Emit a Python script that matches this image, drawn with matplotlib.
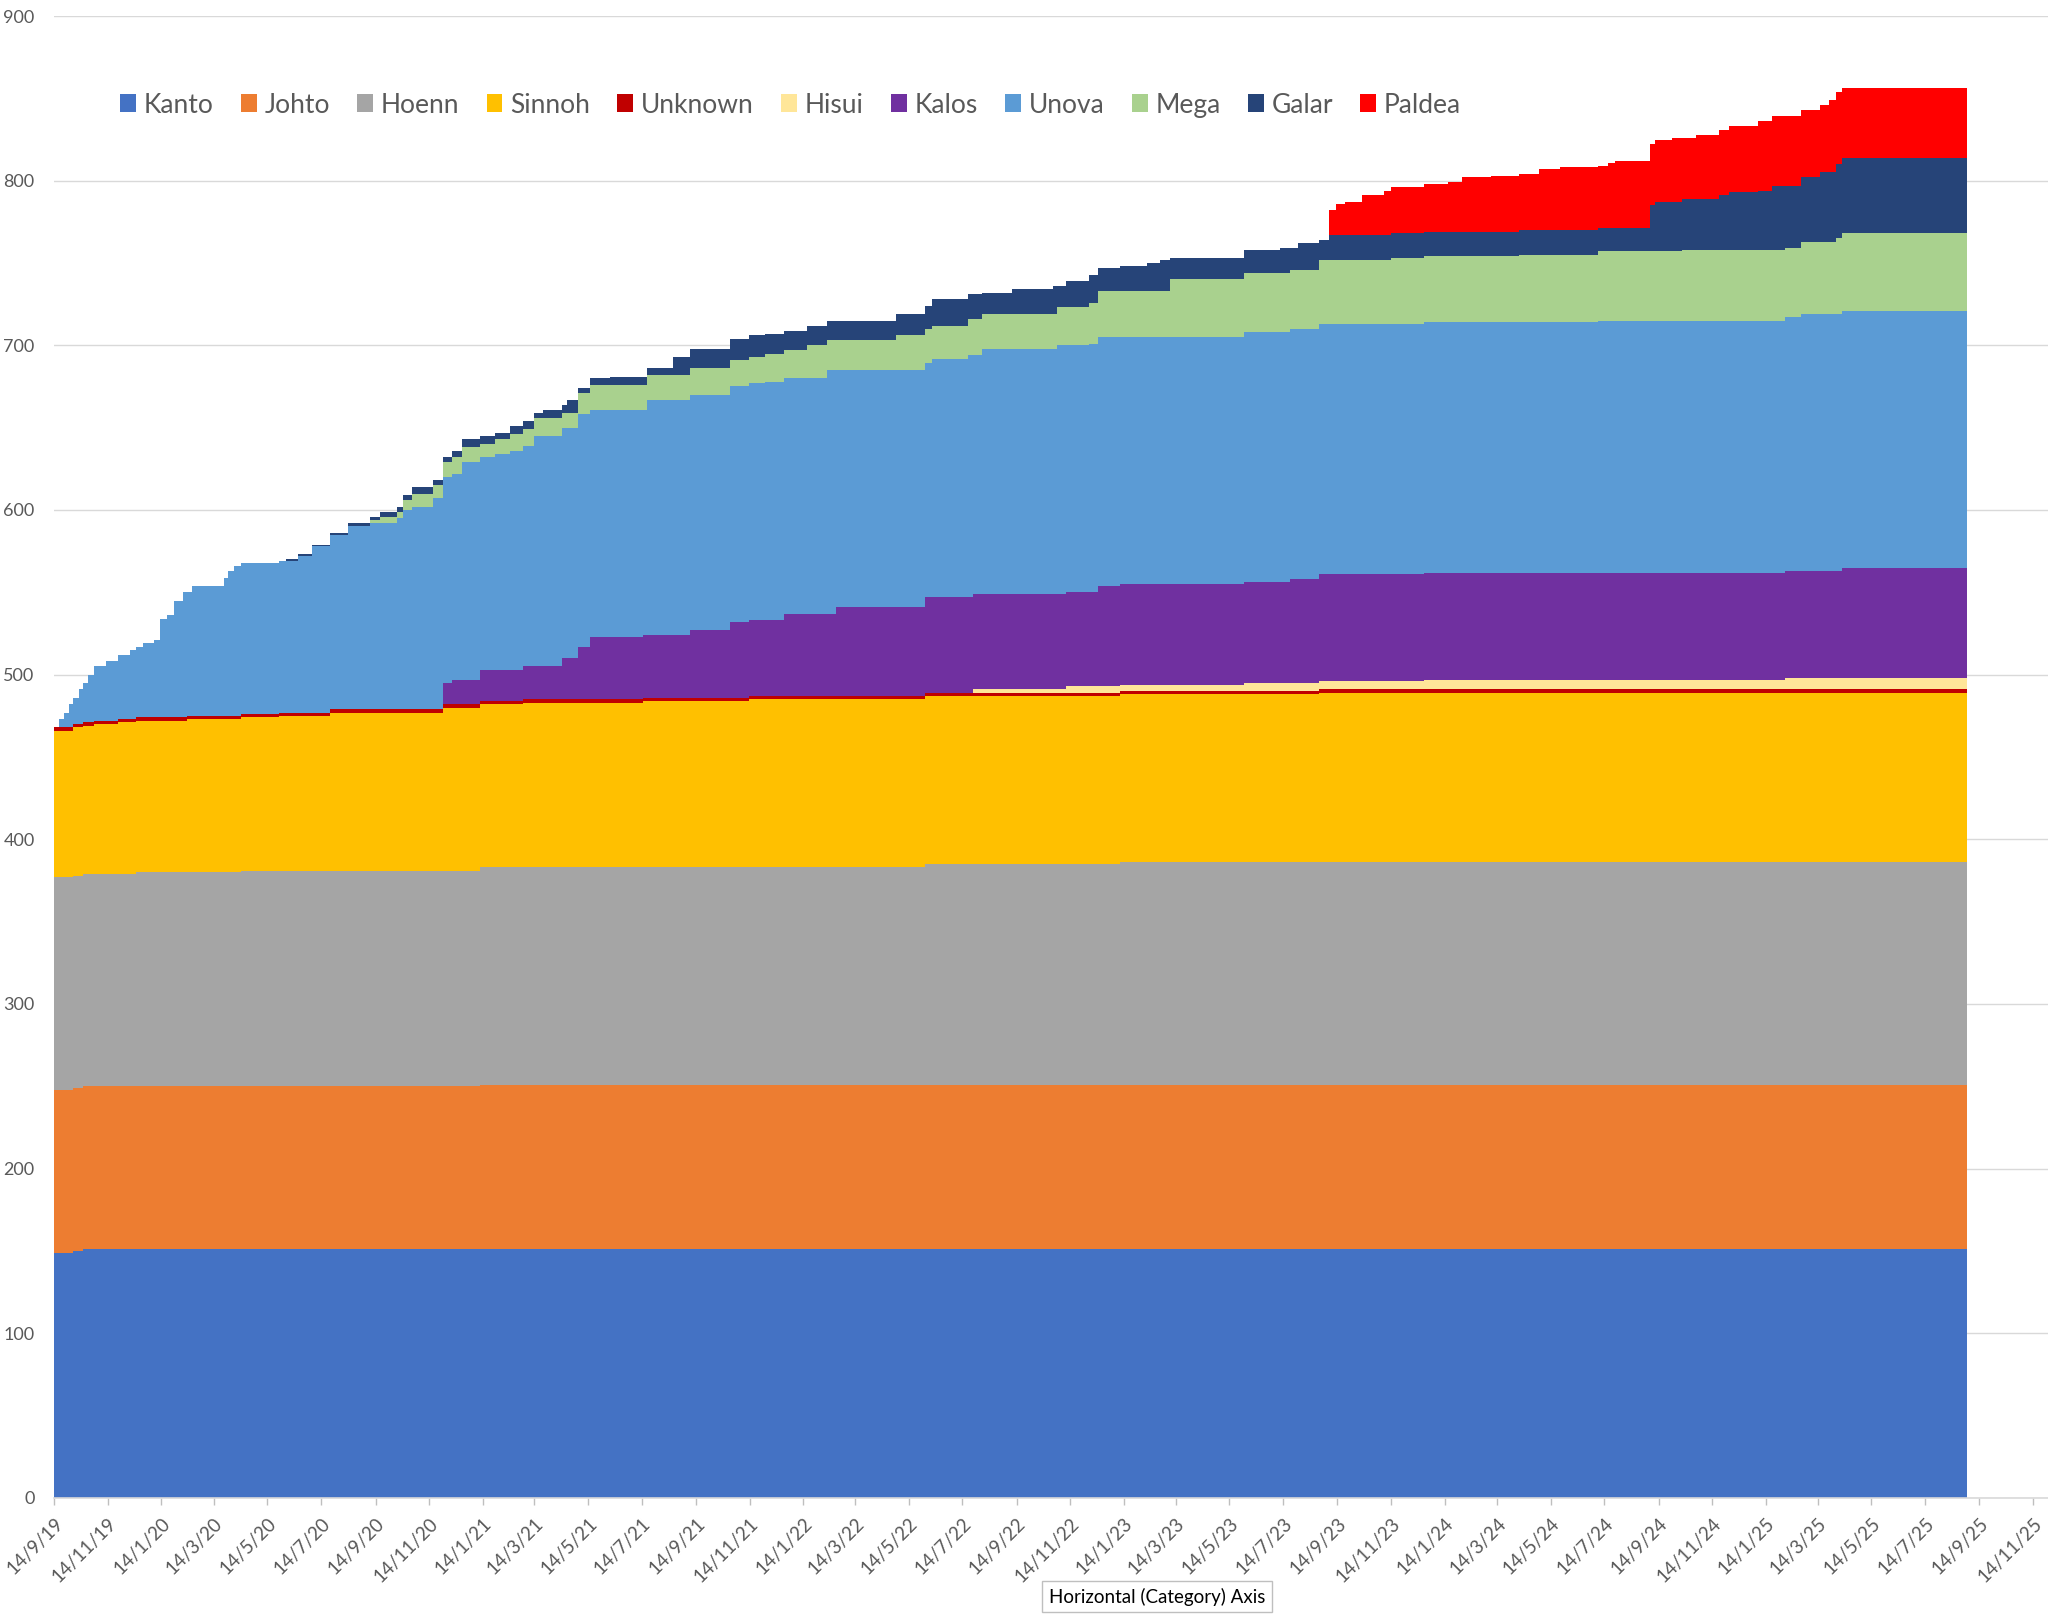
import matplotlib
matplotlib.use("Agg")
import matplotlib.pyplot as plt
import numpy as np
import pandas as pd

plt.rcParams['font.family'] = ['Lato', 'DejaVu Sans']

# ---------------- data ----------------
dates = [
    "2019-09-14", "2019-09-20", "2019-09-25", "2019-10-01", "2019-10-06", "2019-10-12", "2019-10-17", "2019-10-23",
    "2019-10-29", "2019-11-12", "2019-11-26", "2019-12-09", "2019-12-16", "2019-12-24", "2020-01-06", "2020-01-13",
    "2020-01-21", "2020-01-29", "2020-02-08", "2020-02-12", "2020-02-18", "2020-03-25", "2020-03-30", "2020-04-06", "2020-04-14", "2020-05-27",
    "2020-06-04", "2020-06-18", "2020-07-04", "2020-07-24", "2020-08-14", "2020-09-08", "2020-09-19", "2020-10-08", "2020-10-15", "2020-10-25",
    "2020-11-19", "2020-11-30", "2020-12-10", "2020-12-21", "2021-01-11", "2021-01-28", "2021-02-14", "2021-03-01", "2021-03-13", "2021-03-24",
    "2021-04-14", "2021-04-20", "2021-05-03", "2021-05-16", "2021-06-08", "2021-07-15", "2021-07-20", "2021-08-19", "2021-09-07", "2021-10-23",
    "2021-11-13", "2021-12-01", "2021-12-23", "2022-01-18", "2022-02-10", "2022-02-20", "2022-04-30", "2022-06-02", "2022-06-10", "2022-07-20",
    "2022-07-26", "2022-08-05", "2022-09-09", "2022-10-25", "2022-10-30", "2022-11-09", "2022-12-05", "2022-12-15", "2023-01-09", "2023-02-09",
    "2023-02-24", "2023-03-08", "2023-05-31", "2023-07-11", "2023-07-22", "2023-07-31", "2023-08-24", "2023-09-04", "2023-09-12", "2023-09-23",
    "2023-10-12", "2023-11-06", "2023-11-14", "2023-12-22", "2024-01-18", "2024-02-03", "2024-03-07", "2024-04-08", "2024-04-30", "2024-05-24",
    "2024-07-07", "2024-07-18", "2024-07-26", "2024-09-04", "2024-09-10", "2024-09-29", "2024-10-10", "2024-10-26", "2024-11-22", "2024-12-03",
    "2025-01-05", "2025-01-21", "2025-02-05", "2025-02-23", "2025-03-16", "2025-03-27", "2025-04-04", "2025-04-11", "2025-08-31",
]

kanto = [
    149, 149, 149, 149, 150, 150, 151, 151, 151, 151, 151, 151, 151, 151, 151, 151,
    151, 151, 151, 151, 151, 151, 151, 151, 151, 151,
    151, 151, 151, 151, 151, 151, 151, 151, 151, 151,
    151, 151, 151, 151, 151, 151, 151, 151, 151, 151,
    151, 151, 151, 151, 151, 151, 151, 151, 151, 151,
    151, 151, 151, 151, 151, 151, 151, 151, 151, 151,
    151, 151, 151, 151, 151, 151, 151, 151, 151, 151,
    151, 151, 151, 151, 151, 151, 151, 151, 151, 151,
    151, 151, 151, 151, 151, 151, 151, 151, 151, 151,
    151, 151, 151, 151, 151, 151, 151, 151, 151, 151,
    151, 151, 151, 151, 151, 151, 151, 151, 151,
]
johto = [
    99, 99, 99, 99, 99, 99, 99, 99, 99, 99, 99, 99, 99, 99, 99, 99,
    99, 99, 99, 99, 99, 99, 99, 99, 99, 99,
    99, 99, 99, 99, 99, 99, 99, 99, 99, 99,
    99, 99, 99, 99, 100, 100, 100, 100, 100, 100,
    100, 100, 100, 100, 100, 100, 100, 100, 100, 100,
    100, 100, 100, 100, 100, 100, 100, 100, 100, 100,
    100, 100, 100, 100, 100, 100, 100, 100, 100, 100,
    100, 100, 100, 100, 100, 100, 100, 100, 100, 100,
    100, 100, 100, 100, 100, 100, 100, 100, 100, 100,
    100, 100, 100, 100, 100, 100, 100, 100, 100, 100,
    100, 100, 100, 100, 100, 100, 100, 100, 100,
]
hoenn = [
    129, 129, 129, 129, 129, 129, 129, 129, 129, 129, 129, 129, 130, 130, 130, 130,
    130, 130, 130, 130, 130, 130, 130, 130, 131, 131,
    131, 131, 131, 131, 131, 131, 131, 131, 131, 131,
    131, 131, 131, 131, 132, 132, 132, 132, 132, 132,
    132, 132, 132, 132, 132, 132, 132, 132, 132, 132,
    132, 132, 132, 132, 132, 132, 132, 134, 134, 134,
    134, 134, 134, 134, 134, 134, 134, 134, 135, 135,
    135, 135, 135, 135, 135, 135, 135, 135, 135, 135,
    135, 135, 135, 135, 135, 135, 135, 135, 135, 135,
    135, 135, 135, 135, 135, 135, 135, 135, 135, 135,
    135, 135, 135, 135, 135, 135, 135, 135, 135,
]
sinnoh = [
    89, 89, 89, 89, 90, 90, 90, 90, 91, 91, 92, 92, 92, 92, 92, 92,
    92, 92, 92, 93, 93, 93, 93, 93, 93, 94,
    94, 94, 94, 96, 96, 96, 96, 96, 96, 96,
    96, 99, 99, 99, 99, 99, 99, 100, 100, 100,
    100, 100, 100, 100, 100, 101, 101, 101, 101, 101,
    102, 102, 102, 102, 102, 102, 102, 102, 102, 102,
    102, 102, 102, 102, 102, 102, 102, 102, 102, 102,
    102, 102, 102, 102, 102, 102, 103, 103, 103, 103,
    103, 103, 103, 103, 103, 103, 103, 103, 103, 103,
    103, 103, 103, 103, 103, 103, 103, 103, 103, 103,
    103, 103, 103, 103, 103, 103, 103, 103, 103,
]
unknown = [
    2, 2, 2, 2, 2, 2, 2, 2, 2, 2, 2, 2, 2, 2, 2, 2,
    2, 2, 2, 2, 2, 2, 2, 2, 2, 2,
    2, 2, 2, 2, 2, 2, 2, 2, 2, 2,
    2, 2, 2, 2, 2, 2, 2, 2, 2, 2,
    2, 2, 2, 2, 2, 2, 2, 2, 2, 2,
    2, 2, 2, 2, 2, 2, 2, 2, 2, 2,
    2, 2, 2, 2, 2, 2, 2, 2, 2, 2,
    2, 2, 2, 2, 2, 2, 2, 2, 2, 2,
    2, 2, 2, 2, 2, 2, 2, 2, 2, 2,
    2, 2, 2, 2, 2, 2, 2, 2, 2, 2,
    2, 2, 2, 2, 2, 2, 2, 2, 2,
]
hisui = [
    0, 0, 0, 0, 0, 0, 0, 0, 0, 0, 0, 0, 0, 0, 0, 0,
    0, 0, 0, 0, 0, 0, 0, 0, 0, 0,
    0, 0, 0, 0, 0, 0, 0, 0, 0, 0,
    0, 0, 0, 0, 0, 0, 0, 0, 0, 0,
    0, 0, 0, 0, 0, 0, 0, 0, 0, 0,
    0, 0, 0, 0, 0, 0, 0, 0, 0, 0,
    2, 2, 2, 2, 2, 4, 4, 4, 4, 4,
    4, 4, 5, 5, 5, 5, 5, 5, 5, 5,
    5, 5, 5, 6, 6, 6, 6, 6, 6, 6,
    6, 6, 6, 6, 6, 6, 6, 6, 6, 6,
    6, 6, 7, 7, 7, 7, 7, 7, 7,
]
kalos = [
    0, 0, 0, 0, 0, 0, 0, 0, 0, 0, 0, 0, 0, 0, 0, 0,
    0, 0, 0, 0, 0, 0, 0, 0, 0, 0,
    0, 0, 0, 0, 0, 0, 0, 0, 0, 0,
    0, 13, 15, 15, 19, 19, 19, 20, 20, 20,
    25, 25, 32, 38, 38, 38, 38, 38, 41, 46,
    46, 46, 50, 50, 50, 54, 54, 58, 58, 58,
    58, 58, 58, 58, 58, 57, 57, 61, 61, 61,
    61, 61, 61, 61, 63, 63, 65, 65, 65, 65,
    65, 65, 65, 65, 65, 65, 65, 65, 65, 65,
    65, 65, 65, 65, 65, 65, 65, 65, 65, 65,
    65, 65, 65, 65, 65, 65, 65, 67, 67,
]
unova = [
    0, 5, 9, 14, 16, 21, 24, 29, 33, 36, 39, 42, 43, 45, 47, 60,
    62, 71, 76, 75, 79, 84, 88, 91, 92, 92,
    92, 95, 101, 106, 111, 113, 113, 116, 121, 123,
    128, 125, 125, 132, 129, 131, 133, 134, 140, 140,
    140, 140, 141, 138, 138, 137, 143, 143, 143, 143,
    144, 145, 143, 143, 148, 144, 144, 142, 145, 147,
    145, 149, 149, 149, 151, 150, 151, 151, 150, 150,
    150, 150, 152, 152, 152, 152, 152, 152, 152, 152,
    152, 152, 152, 152, 152, 152, 152, 152, 152, 152,
    153, 153, 153, 153, 153, 153, 153, 153, 153, 153,
    153, 153, 154, 156, 156, 156, 156, 156, 156,
]
mega = [
    0, 0, 0, 0, 0, 0, 0, 0, 0, 0, 0, 0, 0, 0, 0, 0,
    0, 0, 0, 0, 0, 0, 0, 0, 0, 0,
    0, 0, 0, 0, 0, 2, 4, 4, 6, 8,
    8, 9, 10, 9, 8, 9, 10, 10, 11, 11,
    9, 9, 13, 15, 15, 15, 15, 15, 16, 16,
    16, 17, 17, 20, 18, 18, 21, 21, 20, 22,
    22, 21, 21, 21, 23, 23, 25, 28, 28, 28,
    28, 35, 36, 36, 36, 36, 39, 39, 39, 39,
    39, 39, 40, 40, 40, 40, 40, 41, 41, 41,
    42, 42, 42, 42, 42, 42, 43, 43, 43, 43,
    43, 43, 42, 44, 44, 44, 46, 47, 47,
]
galar = [
    0, 0, 0, 0, 0, 0, 0, 0, 0, 0, 0, 0, 0, 0, 0, 0,
    0, 0, 0, 0, 0, 0, 0, 0, 0, 0,
    1, 1, 1, 1, 2, 2, 3, 3, 3, 4,
    3, 3, 4, 5, 5, 4, 5, 5, 3, 5,
    5, 8, 3, 4, 5, 5, 4, 11, 12, 13,
    13, 12, 12, 12, 12, 12, 13, 14, 16, 15,
    15, 13, 15, 17, 13, 16, 17, 14, 15, 17,
    19, 13, 14, 15, 13, 16, 12, 15, 15, 15,
    15, 15, 15, 15, 15, 15, 15, 15, 15, 15,
    14, 14, 14, 28, 30, 30, 31, 31, 33, 35,
    36, 39, 38, 39, 42, 42, 45, 46, 46,
]
paldea = [
    0, 0, 0, 0, 0, 0, 0, 0, 0, 0, 0, 0, 0, 0, 0, 0,
    0, 0, 0, 0, 0, 0, 0, 0, 0, 0,
    0, 0, 0, 0, 0, 0, 0, 0, 0, 0,
    0, 0, 0, 0, 0, 0, 0, 0, 0, 0,
    0, 0, 0, 0, 0, 0, 0, 0, 0, 0,
    0, 0, 0, 0, 0, 0, 0, 0, 0, 0,
    0, 0, 0, 0, 0, 0, 0, 0, 0, 0,
    0, 0, 0, 0, 0, 0, 0, 15, 19, 20,
    24, 27, 28, 29, 30, 33, 34, 34, 37, 38,
    38, 40, 41, 37, 38, 39, 37, 39, 40, 40,
    42, 42, 42, 41, 41, 44, 44, 42, 42,
]

series_names = ["Kanto", "Johto", "Hoenn", "Sinnoh", "Unknown", "Hisui",
                "Kalos", "Unova", "Mega", "Galar", "Paldea"]
series_values = [kanto, johto, hoenn, sinnoh, unknown, hisui,
                 kalos, unova, mega, galar, paldea]
colors = ["#4472C4", "#ED7D31", "#A5A5A5", "#FFC000", "#C00000", "#FFE699",
          "#7030A0", "#5B9BD5", "#A9D18E", "#264478", "#FF0000"]

tick_labels = [
    "14/9/19", "14/11/19", "14/1/20", "14/3/20", "14/5/20", "14/7/20", "14/9/20", "14/11/20",
    "14/1/21", "14/3/21", "14/5/21", "14/7/21", "14/9/21", "14/11/21", "14/1/22", "14/3/22",
    "14/5/22", "14/7/22", "14/9/22", "14/11/22", "14/1/23", "14/3/23", "14/5/23", "14/7/23",
    "14/9/23", "14/11/23", "14/1/24", "14/3/24", "14/5/24", "14/7/24", "14/9/24", "14/11/24",
    "14/1/25", "14/3/25", "14/5/25", "14/7/25", "14/9/25", "14/11/25",
]
y_ticks = [0, 100, 200, 300, 400, 500, 600, 700, 800, 900]

for v in series_values:
    assert len(v) == len(dates), (len(v), len(dates))

# ---------------- figure ----------------
fig = plt.figure(figsize=(20.48, 16.18), dpi=100)
ax = fig.add_axes([0.02637, 0.07417, 0.97363, 0.91594])

x = pd.to_datetime(dates).to_numpy()
vals = np.array(series_values, dtype=float)
cum = np.cumsum(vals, axis=0)

handles = {}
# draw from top series to bottom, each from zero, so no seams appear
for i in range(len(series_names) - 1, -1, -1):
    mask = vals[i] > 0
    h = ax.fill_between(x, 0, cum[i], where=mask, step='post',
                        facecolor=colors[i], edgecolor='none', linewidth=0,
                        zorder=2, label=series_names[i])
    handles[series_names[i]] = h

ax.set_xlim(pd.Timestamp("2019-09-14"), pd.Timestamp("2025-12-01"))
ax.set_ylim(0, 900)
ax.set_yticks(y_ticks)
ax.yaxis.grid(True, color="#D9D9D9", linewidth=1.0, zorder=0)
ax.set_axisbelow(True)

for s in ["left", "top", "right"]:
    ax.spines[s].set_visible(False)
ax.spines["bottom"].set_color("#D9D9D9")
ax.spines["bottom"].set_linewidth(1.2)
ax.spines["bottom"].set_zorder(3)

tick_dates = pd.to_datetime(tick_labels, format="%d/%m/%y")
ax.set_xticks(tick_dates)
ax.set_xticklabels(tick_labels, rotation=45, ha="right", rotation_mode="anchor")

ax.tick_params(axis="y", length=0, pad=14, labelsize=13, labelcolor="#595959")
ax.tick_params(axis="x", length=5, width=1, color="#BFBFBF", pad=7,
               labelsize=13.5, labelcolor="#595959")

leg = fig.legend([handles[n] for n in series_names], series_names,
                 loc="center", bbox_to_anchor=(0.386, 0.935), ncol=11,
                 frameon=False, fontsize=19, handlelength=0.6, handleheight=0.68,
                 handletextpad=0.3, columnspacing=1.03, labelcolor="#595959")

fig.text(0.565, 0.0133, "Horizontal (Category) Axis", ha="center", va="center",
         fontsize=13.5, color="black",
         bbox=dict(boxstyle="square,pad=0.35", facecolor="white",
                   edgecolor="#BFBFBF", linewidth=1))

fig.savefig("out.png", dpi=100)
